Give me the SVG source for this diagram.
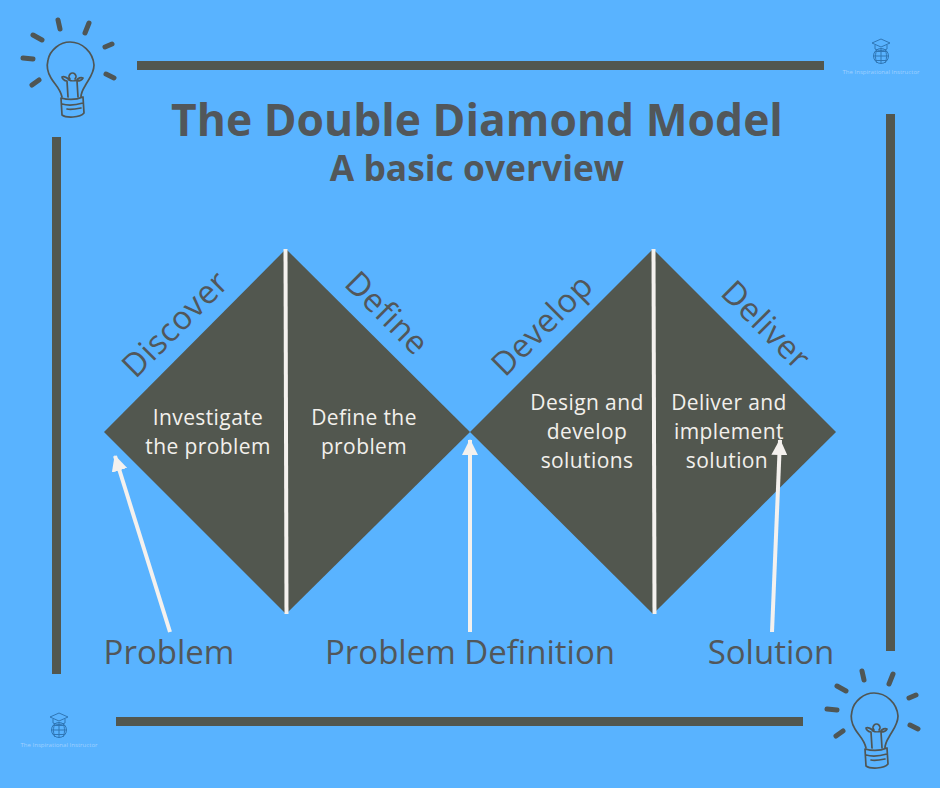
<svg xmlns="http://www.w3.org/2000/svg" width="940" height="788" viewBox="0 0 940 788">
<defs>
<style>
text{font-family:"Open Sans","Liberation Sans",sans-serif;text-anchor:middle}
.t{fill:#52575a;font-weight:700}
.w{fill:#f2f0ec;font-size:21px;letter-spacing:.4px}
.s{fill:#52575a;font-size:32.5px;letter-spacing:.5px}
.p{fill:#52575a;font-size:33px}
.bar{fill:#52574f}
.ln{stroke:#f4f1ee;stroke-width:4;fill:none}
.bulb{fill:none;stroke:#4f5655;stroke-width:1.7;stroke-linecap:round;stroke-linejoin:round}
.ray{fill:none;stroke:#4f5655;stroke-width:5;stroke-linecap:round}
.cap{fill:none;stroke:#2f76b5;stroke-width:1}
.wm{fill:#9fd0ff;font-size:6.100px}
</style>
<marker id="ah" markerUnits="userSpaceOnUse" markerWidth="20" markerHeight="16" refX="15" refY="8" orient="auto"><path d="M0 0L16 8L0 16Z" fill="#f4f1ee"/></marker>
<g id="bulbshape">
<path class="bulb" d="M62 97C60 88 55 85 51 78C46 70 47 64 48 60C50 50 60 42 70 42C82 42 93 52 94 65C94 74 88 80 85 86C82 91 81 94 81 97"/>
<path class="bulb" d="M68 97L67 81M78 97L77 81M67 81C64 81 62 78 62 77C64 76 68 78 69 80C71 81 75 81 77 80C78 78 81 77 83 78C82 80 80 81 77 81M70 79A3.500 3.500 0 1 1 75 79"/>
<path class="bulb" d="M61 98C68 100 76 100 83 97L84 113C80 118 66 118 62 115Z M62 104C69 106 76 105 83 103M67 109C71 110 76 109 81 108"/>
<path class="ray" d="M58 20L60 29M89 23L85 33M33 35L42 40M23 58L33 59M32 85L39 80M105 47L112 44M106 74L114 78"/>
</g>
<g id="capshape">
<circle class="cap" cx="60" cy="732" r="7.500"/>
<path class="cap" d="M52.500 732H67.500M54 727.500H66M54 736.500H66M60 724.500V739.500M56 725C54 730 54 735 56 739M64 725C66 730 66 735 64 739"/>
<path class="cap" d="M51 719L60 715L69 719L60 723ZM54 721V725C57 727 63 727 66 725V721"/>
</g>
</defs>
<rect id="background" width="940" height="788" fill="#59b3ff"/>
<g id="frame">
<rect class="bar" x="137" y="61" width="687" height="9"/>
<rect class="bar" x="886" y="114" width="9" height="537"/>
<rect class="bar" x="116" y="717" width="687" height="9"/>
<rect class="bar" x="52" y="137" width="9" height="537"/>
</g>
<g id="bulb-top"><use href="#bulbshape"/></g>
<g id="bulb-bottom"><use href="#bulbshape" transform="translate(804,651)"/></g>
<g id="watermark-top"><use href="#capshape" transform="translate(821,-676)"/><text class="wm" x="881" y="74">The Inspirational Instructor</text></g>
<g id="watermark-bottom"><use href="#capshape" transform="translate(-1,-2)"/><text class="wm" x="59" y="747">The Inspirational Instructor</text></g>
<g id="title">
<text class="t" x="477" y="136" font-size="44.400">The Double Diamond Model</text>
<text class="t" x="477" y="181" font-size="35.400">A basic overview</text>
</g>
<g id="diamond-left">
<path d="M286 249L470 432L286 614L104 432Z" fill="#52574f"/>
<text class="w" x="208" y="425">Investigate</text>
<text class="w" x="208" y="454">the problem</text>
<text class="w" x="364" y="425">Define the</text>
<text class="w" x="364" y="454">problem</text>
<text class="s" transform="translate(183,332) rotate(-45)">Discover</text>
<text class="s" transform="translate(379,321) rotate(45)">Define</text>
</g>
<g id="diamond-right">
<path d="M653 249L836 432L653 614L470 432Z" fill="#52574f"/>
<text class="w" x="587" y="410">Design and</text>
<text class="w" x="587" y="439">develop</text>
<text class="w" x="587" y="468">solutions</text>
<text class="w" x="729" y="410">Deliver and</text>
<text class="w" x="729" y="439">implement</text>
<text class="w" x="727" y="468">solution</text>
<text class="s" transform="translate(550,333) rotate(-45)">Develop</text>
<text class="s" transform="translate(758,333) rotate(45)">Deliver</text>
</g>
<g id="connectors">
<path class="ln" d="M285.500 249L286.500 614"/>
<path class="ln" d="M653.500 249L654.500 614"/>
<path class="ln" d="M170 632L115 456" marker-end="url(#ah)"/>
<path class="ln" d="M470 632V440" marker-end="url(#ah)"/>
<path class="ln" d="M772 632L780 440" marker-end="url(#ah)"/>
</g>
<g id="labels">
<text class="p" x="169" y="664">Problem</text>
<text class="p" x="470" y="664">Problem Definition</text>
<text class="p" x="771" y="664">Solution</text>
</g>
</svg>
